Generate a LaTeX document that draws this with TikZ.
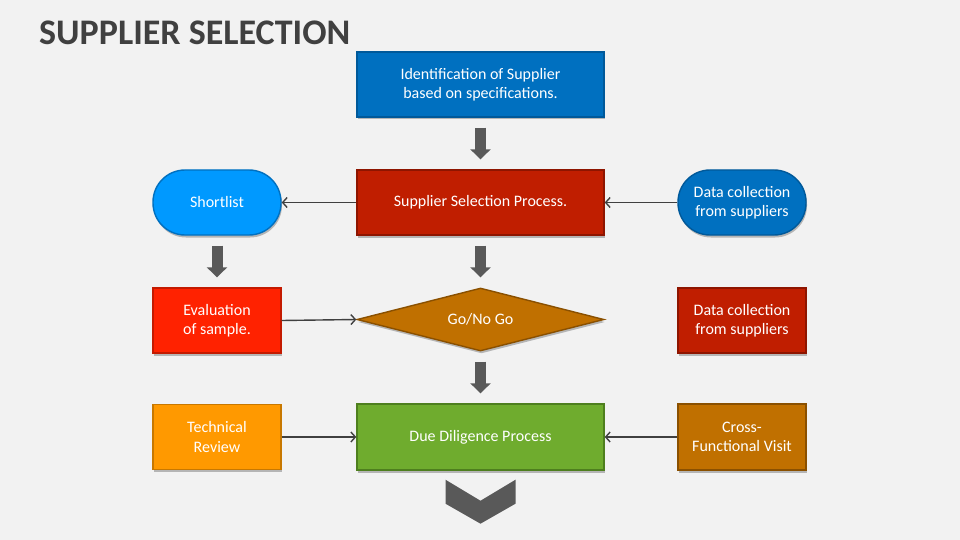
\documentclass[tikz,border=0pt]{standalone}
\usepackage{fontspec}
\setmainfont{Carlito}
\usetikzlibrary{shapes.geometric,arrows.meta,shadows}
\definecolor{bg}{HTML}{F2F2F2}
\definecolor{titlec}{HTML}{404040}
\definecolor{blueA}{HTML}{0070C0}
\definecolor{blueAd}{HTML}{00599A}
\definecolor{blueL}{HTML}{0099FF}
\definecolor{redA}{HTML}{C01E00}
\definecolor{redAd}{HTML}{8E1500}
\definecolor{redB}{HTML}{FF2200}
\definecolor{redBd}{HTML}{C41A00}
\definecolor{brownA}{HTML}{C07000}
\definecolor{brownAd}{HTML}{8A5000}
\definecolor{orangeA}{HTML}{FF9900}
\definecolor{orangeAd}{HTML}{C87800}
\definecolor{greenA}{HTML}{6FAC2E}
\definecolor{greenAd}{HTML}{4E7F1E}
\definecolor{fatc}{HTML}{595959}
\definecolor{thinc}{HTML}{404040}
\tikzset{
  shape base/.style={draw, line width=1.4pt, text=white, align=center, inner sep=2pt,
    font=\fontsize{16}{19.5}\selectfont,
    drop shadow={shadow xshift=1pt, shadow yshift=-2.5pt, opacity=0.25, fill=black}},
  widebox/.style={shape base, rectangle, minimum width=247pt, minimum height=65pt},
  smallbox/.style={shape base, rectangle, minimum width=128pt, minimum height=65pt},
  pill/.style={shape base, rectangle, rounded corners=32pt, minimum width=128pt, minimum height=65pt},
  decision/.style={shape base, diamond, aspect=3.9, minimum width=247pt, minimum height=63pt, inner sep=0pt},
  thinarrow/.style={draw=thinc, line width=1.4pt, -{Straight Barb[length=4.5pt,width=10pt]}},
  fatarrow/.style={draw=fatc, line width=11pt, -{Triangle[length=10pt,width=20pt]},
    shorten <=10pt, shorten >=10pt},
}
\begin{document}
\begin{tikzpicture}[x=1pt,y=-1pt]
\useasboundingbox (0,0) rectangle (960,540);
\fill[bg] (0,0) rectangle (960,540);

\node[anchor=base west, inner sep=0pt, text=titlec,
  font=\bfseries\fontsize{36}{42}\selectfont] (title) at (39,45) {SUPPLIER SELECTION};

\node[widebox, fill=blueA, draw=blueAd] (id) at (480.5,84.5) {Identification of Supplier\\based on specifications.};
\node[widebox, fill=redA, draw=redAd] (sel) at (480.5,202.5) {Supplier Selection Process.};
\node[pill, fill=blueL, draw=blueA] (sl) at (217,202.5) {Shortlist};
\node[pill, fill=blueA, draw=blueAd] (dc1) at (742,202.5) {Data collection\\from suppliers};
\node[smallbox, fill=redB, draw=redBd] (ev) at (217,320.5) {Evaluation\\of sample.};
\node[decision, fill=brownA, draw=brownAd] (go) at (480.5,319.5) {Go/No Go};
\node[smallbox, fill=redA, draw=redAd] (dc2) at (742,320.5) {Data collection\\from suppliers};
\node[smallbox, fill=orangeA, draw=orangeAd] (tr) at (217,437) {Technical\\Review};
\node[widebox, fill=greenA, draw=greenAd, minimum height=66pt] (dd) at (480.5,437) {Due Diligence Process};
\node[smallbox, fill=brownA, draw=brownAd, minimum height=66pt] (cf) at (742,437) {Cross-\\Functional Visit};

\draw[fatarrow] (id.south) -- (sel.north);
\draw[fatarrow] (sl.south) -- (ev.north);
\draw[fatarrow] (sel.south) -- (go.north);
\draw[fatarrow] (go.south) -- (dd.north);

\draw[thinarrow] (sel.west) -- (sl.east);
\draw[thinarrow] (dc1.west) -- (sel.east);
\draw[thinarrow] (ev.east) -- (go.west);
\draw[thinarrow] (tr.east) -- (dd.west);
\draw[thinarrow] (cf.west) -- (dd.east);

\fill[fatc, shift={(dd.south)}] (-35,9) -- (0,30) -- (35,9) -- (35,33) -- (0,53) -- (-35,33) -- cycle;
\end{tikzpicture}
\end{document}
